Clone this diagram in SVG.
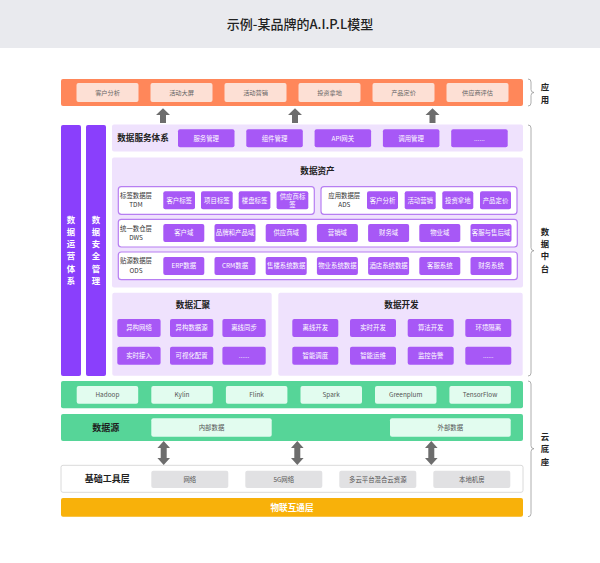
<svg xmlns="http://www.w3.org/2000/svg" width="600" height="563" viewBox="0 0 600 563">
<style>
text{font-family:"Noto Sans CJK SC","Noto Sans","Liberation Sans",sans-serif;text-anchor:middle}
.app{fill:#fde0d5}
.tApp{font-size:6.2px;fill:#666}
.pb{fill:#a758f6}
.tW{font-size:6.4px;fill:#fff}
.pbg{fill:#efe2fd}
.row{fill:#fff;stroke:#b77ef2;stroke-width:1.2}
.lab{font-size:6.4px;fill:#333}
.h{font-size:8.6px;font-weight:bold;fill:#222}
.vbar{fill:#8a3ffc}
.vt{font-size:8.4px;font-weight:bold;fill:#fff}
.g{fill:#56d598}
.gb{fill:#e2fcef}
.tG{font-size:6.4px;fill:#555}
.gray{fill:#e1e1e3}
.side{font-size:8.4px;font-weight:bold;fill:#222}
.brace{fill:none;stroke:#9a9a9a;stroke-width:0.8}
.arr{fill:#6d6d6d}
</style>
<rect x="0" y="0" width="600" height="563" fill="#fff"/>
<g id="header">
<rect x="0" y="0" width="600" height="48" fill="#e9eaee"/>
<text x="300" y="28.5" style="font-size:13px;font-weight:500;fill:#222">示例-某品牌的A.I.P.L模型</text>
</g>
<g id="app-layer">
<rect x="61" y="79" width="462" height="27" rx="2" fill="#ff875a"/>
<rect class="app" x="76.5" y="83" width="62" height="19" rx="2"/><text class="tApp" x="107.5" y="94.8">客户分析</text>
<rect class="app" x="150.5" y="83" width="62" height="19" rx="2"/><text class="tApp" x="181.5" y="94.8">活动大屏</text>
<rect class="app" x="224.5" y="83" width="62" height="19" rx="2"/><text class="tApp" x="255.5" y="94.8">活动营销</text>
<rect class="app" x="298.5" y="83" width="62" height="19" rx="2"/><text class="tApp" x="329.5" y="94.8">投资拿地</text>
<rect class="app" x="372.5" y="83" width="62" height="19" rx="2"/><text class="tApp" x="403.5" y="94.8">产品定价</text>
<rect class="app" x="446.5" y="83" width="62" height="19" rx="2"/><text class="tApp" x="477.5" y="94.8">供应商评估</text>
</g>
<g id="ops-system">
<rect class="vbar" x="61" y="125" width="20" height="251" rx="2"/>
<text class="vt" x="71" y="222.5">数</text><text class="vt" x="71" y="234.8">据</text><text class="vt" x="71" y="247.1">运</text><text class="vt" x="71" y="259.4">营</text><text class="vt" x="71" y="271.7">体</text><text class="vt" x="71" y="284">系</text>
</g>
<g id="security">
<rect class="vbar" x="86" y="125" width="20" height="251" rx="2"/>
<text class="vt" x="96" y="222.5">数</text><text class="vt" x="96" y="234.8">据</text><text class="vt" x="96" y="247.1">安</text><text class="vt" x="96" y="259.4">全</text><text class="vt" x="96" y="271.7">管</text><text class="vt" x="96" y="284">理</text>
</g>
<g id="data-service">
<rect class="pbg" x="112" y="124.5" width="411" height="27" rx="2"/>
<text class="h" x="143" y="141.3">数据服务体系</text>
<rect class="pb" x="178" y="129.3" width="56.5" height="18" rx="2"/><text class="tW" x="206.2" y="140.6">服务管理</text>
<rect class="pb" x="246.3" y="129.3" width="56.5" height="18" rx="2"/><text class="tW" x="274.5" y="140.6">组件管理</text>
<rect class="pb" x="314.6" y="129.3" width="56.5" height="18" rx="2"/><text class="tW" x="342.8" y="140.6">API网关</text>
<rect class="pb" x="382.9" y="129.3" width="56.5" height="18" rx="2"/><text class="tW" x="411.1" y="140.6">调用管理</text>
<rect class="pb" x="451.2" y="129.3" width="56.5" height="18" rx="2"/><text class="tW" x="479.4" y="140.6">......</text>
</g>
<g id="data-assets">
<rect class="pbg" x="112" y="157.5" width="411" height="130" rx="2"/>
<text class="h" x="317.5" y="174.2">数据资产</text>
</g>
<g id="tdm">
<rect class="row" x="118.3" y="186.7" width="196" height="27.6" rx="3"/>
<text class="lab" x="136" y="197.8">标签数据层</text><text class="lab" x="136" y="207">TDM</text>
<rect class="pb" x="163.3" y="191.3" width="31.7" height="18" rx="2"/><text class="tW" x="179.2" y="202.6">客户标签</text>
<rect class="pb" x="201" y="191.3" width="31.7" height="18" rx="2"/><text class="tW" x="216.9" y="202.6">项目标签</text>
<rect class="pb" x="238.7" y="191.3" width="31.7" height="18" rx="2"/><text class="tW" x="254.6" y="202.6">楼盘标签</text>
<rect class="pb" x="276.6" y="191.3" width="31.7" height="18" rx="2"/><text class="tW" x="292.5" y="199">供应商标</text><text class="tW" x="292.5" y="207">签</text>
</g>
<g id="ads">
<rect class="row" x="321" y="186.7" width="196" height="27.6" rx="3"/>
<text class="lab" x="344.3" y="197.8">应用数据层</text><text class="lab" x="344.3" y="207">ADS</text>
<rect class="pb" x="367" y="191.3" width="31" height="18" rx="2"/><text class="tW" x="382.5" y="202.6">客户分析</text>
<rect class="pb" x="404.7" y="191.3" width="31" height="18" rx="2"/><text class="tW" x="420.2" y="202.6">活动营销</text>
<rect class="pb" x="442.3" y="191.3" width="31" height="18" rx="2"/><text class="tW" x="457.8" y="202.6">投资拿地</text>
<rect class="pb" x="480" y="191.3" width="31" height="18" rx="2"/><text class="tW" x="495.5" y="202.6">产品定价</text>
</g>
<g id="dws">
<rect class="row" x="118.3" y="219.3" width="399" height="27.7" rx="3"/>
<text class="lab" x="136" y="230.8">统一数仓层</text><text class="lab" x="136" y="240.2">DWS</text>
<rect class="pb" x="163.3" y="224" width="41" height="18" rx="2"/><text class="tW" x="183.8" y="235.3">客户域</text>
<rect class="pb" x="214.5" y="224" width="41" height="18" rx="2"/><text class="tW" x="235" y="235.3">品牌和产品域</text>
<rect class="pb" x="265.7" y="224" width="41" height="18" rx="2"/><text class="tW" x="286.2" y="235.3">供应商域</text>
<rect class="pb" x="316.9" y="224" width="41" height="18" rx="2"/><text class="tW" x="337.4" y="235.3">营销域</text>
<rect class="pb" x="368.1" y="224" width="41" height="18" rx="2"/><text class="tW" x="388.6" y="235.3">财务域</text>
<rect class="pb" x="419.3" y="224" width="41" height="18" rx="2"/><text class="tW" x="439.8" y="235.3">物业域</text>
<rect class="pb" x="470.5" y="224" width="41" height="18" rx="2"/><text class="tW" x="491" y="235.3">客服与售后域</text>
</g>
<g id="ods">
<rect class="row" x="118.3" y="252" width="399" height="27.7" rx="3"/>
<text class="lab" x="136" y="263.3">贴源数据层</text><text class="lab" x="136" y="272.8">ODS</text>
<rect class="pb" x="163.3" y="257" width="41" height="18" rx="2"/><text class="tW" x="183.8" y="268.3">ERP数据</text>
<rect class="pb" x="214.5" y="257" width="41" height="18" rx="2"/><text class="tW" x="235" y="268.3">CRM数据</text>
<rect class="pb" x="265.7" y="257" width="41" height="18" rx="2"/><text class="tW" x="286.2" y="268.3">售楼系统数据</text>
<rect class="pb" x="316.9" y="257" width="41" height="18" rx="2"/><text class="tW" x="337.4" y="268.3">物业系统数据</text>
<rect class="pb" x="368.1" y="257" width="41" height="18" rx="2"/><text class="tW" x="388.6" y="268.3">酒店系统数据</text>
<rect class="pb" x="419.3" y="257" width="41" height="18" rx="2"/><text class="tW" x="439.8" y="268.3">客服系统</text>
<rect class="pb" x="470.5" y="257" width="41" height="18" rx="2"/><text class="tW" x="491" y="268.3">财务系统</text>
</g>
<g id="data-aggregation">
<rect class="pbg" x="112.3" y="292.7" width="159.4" height="83" rx="2"/>
<text class="h" x="193" y="308.3">数据汇聚</text>
<rect class="pb" x="117.3" y="319" width="43.3" height="18" rx="2"/><text class="tW" x="139" y="330.3">异构网络</text>
<rect class="pb" x="170" y="319" width="43.3" height="18" rx="2"/><text class="tW" x="191.6" y="330.3">异构数据源</text>
<rect class="pb" x="222.4" y="319" width="43.3" height="18" rx="2"/><text class="tW" x="244" y="330.3">离线同步</text>
<rect class="pb" x="117.3" y="346.7" width="43.3" height="18" rx="2"/><text class="tW" x="139" y="358">实时接入</text>
<rect class="pb" x="170" y="346.7" width="43.3" height="18" rx="2"/><text class="tW" x="191.6" y="358">可视化配置</text>
<rect class="pb" x="222.4" y="346.7" width="43.3" height="18" rx="2"/><text class="tW" x="244" y="358">......</text>
</g>
<g id="data-development">
<rect class="pbg" x="278.3" y="292.7" width="244.4" height="83" rx="2"/>
<text class="h" x="401.5" y="308.3">数据开发</text>
<rect class="pb" x="292.3" y="319" width="46" height="18" rx="2"/><text class="tW" x="315.3" y="330.3">离线开发</text>
<rect class="pb" x="350" y="319" width="46" height="18" rx="2"/><text class="tW" x="373" y="330.3">实时开发</text>
<rect class="pb" x="407.7" y="319" width="46" height="18" rx="2"/><text class="tW" x="430.7" y="330.3">算法开发</text>
<rect class="pb" x="465.3" y="319" width="46" height="18" rx="2"/><text class="tW" x="488.3" y="330.3">环境隔离</text>
<rect class="pb" x="292.3" y="346.7" width="46" height="18" rx="2"/><text class="tW" x="315.3" y="358">智能调度</text>
<rect class="pb" x="350" y="346.7" width="46" height="18" rx="2"/><text class="tW" x="373" y="358">智能运维</text>
<rect class="pb" x="407.7" y="346.7" width="46" height="18" rx="2"/><text class="tW" x="430.7" y="358">监控告警</text>
<rect class="pb" x="465.3" y="346.7" width="46" height="18" rx="2"/><text class="tW" x="488.3" y="358">......</text>
</g>
<g id="compute-engines">
<rect class="g" x="61" y="381" width="462" height="27.3" rx="2"/>
<rect class="gb" x="76.7" y="386" width="61.5" height="17.7" rx="2"/><text class="tG" x="107.4" y="397">Hadoop</text>
<rect class="gb" x="151.3" y="386" width="61.5" height="17.7" rx="2"/><text class="tG" x="182" y="397">Kylin</text>
<rect class="gb" x="225.9" y="386" width="61.5" height="17.7" rx="2"/><text class="tG" x="256.6" y="397">Flink</text>
<rect class="gb" x="300.5" y="386" width="61.5" height="17.7" rx="2"/><text class="tG" x="331.2" y="397">Spark</text>
<rect class="gb" x="375" y="386" width="61.5" height="17.7" rx="2"/><text class="tG" x="405.7" y="397">Greenplum</text>
<rect class="gb" x="449.4" y="386" width="61.5" height="17.7" rx="2"/><text class="tG" x="480.1" y="397">TensorFlow</text>
</g>
<g id="data-source">
<rect class="g" x="61" y="414" width="462" height="27" rx="2"/>
<text x="105.7" y="430.6" style="font-size:9px;font-weight:bold;fill:#1f1f1f">数据源</text>
<rect class="gb" x="151.3" y="418.3" width="120.4" height="18.4" rx="2"/><text class="tG" x="211.5" y="429.6">内部数据</text>
<rect class="gb" x="390" y="418.3" width="120.7" height="18.4" rx="2"/><text class="tG" x="450.3" y="429.6">外部数据</text>
</g>
<g id="base-tools">
<rect x="61" y="465.3" width="462" height="27" rx="2" fill="#fff" stroke="#dadada" stroke-width="1"/>
<text x="107.3" y="482.3" style="font-size:9px;font-weight:bold;fill:#1f1f1f">基础工具层</text>
<rect class="gray" x="151.3" y="470.7" width="77" height="17.3" rx="2"/><text class="tG" x="189.8" y="481.7">网络</text>
<rect class="gray" x="245.3" y="470.7" width="77" height="17.3" rx="2"/><text class="tG" x="283.8" y="481.7">5G网络</text>
<rect class="gray" x="339.3" y="470.7" width="77" height="17.3" rx="2"/><text class="tG" x="377.8" y="481.7">多云平台混合云资源</text>
<rect class="gray" x="433.3" y="470.7" width="77" height="17.3" rx="2"/><text class="tG" x="471.8" y="481.7">本地机房</text>
</g>
<g id="iot-layer">
<rect x="61" y="498" width="462" height="18.7" rx="2" fill="#f8b10a"/>
<text x="292" y="510.5" style="font-size:8.6px;font-weight:bold;fill:#fff">物联互通层</text>
</g>
<g id="side-labels">
<path class="brace" d="M528,79 q3,0 3,3 V89.5 q0,3 3,3 q-3,0 -3,3 V103 q0,3 -3,3"/>
<text class="side" x="545" y="90">应</text><text class="side" x="545" y="102.5">用</text>
<path class="brace" d="M528,125 q3,0 3,3 V247.7 q0,3 3,3 q-3,0 -3,3 V373 q0,3 -3,3"/>
<text class="side" x="545" y="234.7">数</text><text class="side" x="545" y="247">据</text><text class="side" x="545" y="259.3">中</text><text class="side" x="545" y="271.6">台</text>
<path class="brace" d="M528,381 q3,0 3,3 V445.7 q0,3 3,3 q-3,0 -3,3 V513.7 q0,3 -3,3"/>
<text class="side" x="545" y="439.7">云</text><text class="side" x="545" y="452">底</text><text class="side" x="545" y="464.7">座</text>
</g>
<g id="connectors">
<polygon class="arr" points="163,108.3 170,115 166,115 166,123 160,123 160,115 156,115"/>
<polygon class="arr" points="295,108.3 302,115 298,115 298,123 292,123 292,115 288,115"/>
<polygon class="arr" points="432.5,108.3 439.5,115 435.5,115 435.5,123 429.5,123 429.5,115 425.5,115"/>
<polygon class="arr" points="163.7,441 170,448 166.7,448 166.7,458 170,458 163.7,465 157.4,458 160.7,458 160.7,448 157.4,448"/>
<polygon class="arr" points="297.3,441 303.6,448 300.3,448 300.3,458 303.6,458 297.3,465 291,458 294.3,458 294.3,448 291,448"/>
<polygon class="arr" points="431.3,441 437.6,448 434.3,448 434.3,458 437.6,458 431.3,465 425,458 428.3,458 428.3,448 425,448"/>
</g>
</svg>
